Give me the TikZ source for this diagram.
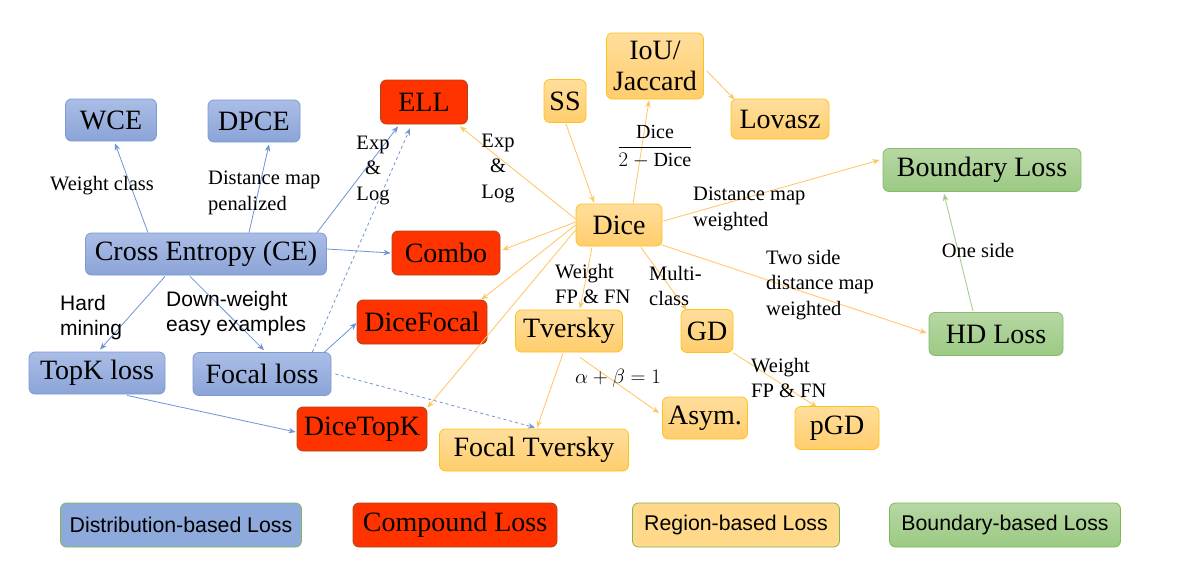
\documentclass[tikz,border=0pt]{standalone}
\usepackage{fontspec}
\setmainfont{Liberation Serif}
\newfontfamily\arialf{Liberation Sans}
\usetikzlibrary{arrows.meta,calc}
\definecolor{blueT}{HTML}{AABDE6}
\definecolor{blueBot}{HTML}{8BA4D7}
\definecolor{blueB}{HTML}{7E9AD2}
\definecolor{blueL}{HTML}{6F93D6}
\definecolor{redF}{HTML}{FF3300}
\definecolor{redB}{HTML}{A9471C}
\definecolor{orT}{HTML}{FFDE9C}
\definecolor{orBot}{HTML}{FFCD6C}
\definecolor{orB}{HTML}{FFC21A}
\definecolor{orL}{HTML}{FFC55E}
\definecolor{grT}{HTML}{B7D7A4}
\definecolor{grBot}{HTML}{9BCA83}
\definecolor{grB}{HTML}{86BC6A}
\definecolor{grL}{HTML}{9DCB85}
\definecolor{legB}{HTML}{7FB857}
\definecolor{legBlue}{HTML}{8EA9DB}
\definecolor{legOr}{HTML}{FFD88A}
\newcommand{\nodefont}{\fontsize{28}{31}\selectfont}
\newcommand{\lblfont}{\fontsize{20.5}{25.5}\selectfont}
\newcommand{\arlblfont}{\arialf\fontsize{21}{25}\selectfont}
\newcommand{\legfont}{\arialf\fontsize{21.3}{24}\selectfont}
\begin{document}
\begin{tikzpicture}[x=1pt,y=-1pt,
  box/.style={rounded corners=6pt, inner sep=0pt, font=\nodefont, align=center, line width=0.8pt},
  dist/.style={box, draw=blueB, top color=blueT, bottom color=blueBot},
  comp/.style={box, draw=redB, fill=redF},
  reg/.style={box, draw=orB, top color=orT, bottom color=orBot},
  bnds/.style={box, draw=grB, top color=grT, bottom color=grBot},
  lbl/.style={font=\lblfont, align=left, inner sep=0pt},
  lblc/.style={font=\lblfont, align=center, inner sep=0pt},
  arl/.style={font=\arlblfont, align=left, inner sep=0pt},
  tip/.style={-{Stealth[length=7pt,width=5.5pt]}},
  barr/.style={draw=blueL, line width=0.8pt, tip},
  bdash/.style={barr, dashed},
  oarr/.style={draw=orL, line width=0.8pt, tip},
  garr/.style={draw=grL, line width=0.8pt, tip},
  leg/.style={rounded corners=6pt, inner sep=0pt, line width=0.8pt, minimum height=44pt}
]
\useasboundingbox (0,0) rectangle (1200,573);
\fill[white] (0,0) rectangle (1200,573);

% distribution-based
\node[dist, minimum width=91pt, minimum height=42pt] (wce) at (111,120) {WCE};
\node[dist, minimum width=92pt, minimum height=42pt] (dpce) at (254,121) {DPCE};
\node[dist, minimum width=241pt, minimum height=42pt] (ce) at (206,254) {Cross Entropy (CE)};
\node[dist, minimum width=136pt, minimum height=42pt] (topk) at (97,373) {TopK loss};
\node[dist, minimum width=138pt, minimum height=43pt] (focal) at (262,374) {Focal loss};
% compound
\node[comp, minimum width=87pt, minimum height=44pt] (ell) at (424,102) {ELL};
\node[comp, minimum width=108pt, minimum height=44pt] (combo) at (446,253) {Combo};
\node[comp, minimum width=130pt, minimum height=44pt] (dicefocal) at (422,322) {DiceFocal};
\node[comp, minimum width=130pt, minimum height=44pt] (dicetopk) at (362,429) {DiceTopK};
% region
\node[reg, minimum width=42pt, minimum height=43pt] (ss) at (565,101) {SS};
\node[reg, minimum width=97pt, minimum height=66pt] (iou) at (655,66) {IoU/\\Jaccard};
\node[reg, minimum width=98pt, minimum height=40pt] (lovasz) at (780,119) {Lovasz};
\node[reg, minimum width=86pt, minimum height=42pt] (dice) at (619,225) {Dice};
\node[reg, minimum width=107pt, minimum height=42pt] (tversky) at (569,331) {Tversky};
\node[reg, minimum width=52pt, minimum height=43pt] (gd) at (707,331) {GD};
\node[reg, minimum width=85pt, minimum height=42pt] (asym) at (705,418) {Asym.};
\node[reg, minimum width=84pt, minimum height=43pt] (pgd) at (837,428) {pGD};
\node[reg, minimum width=189pt, minimum height=42pt] (ft) at (534,450) {Focal Tversky};
% boundary
\node[bnds, minimum width=198pt, minimum height=43pt] (bnd) at (982,170) {Boundary Loss};
\node[bnds, minimum width=134pt, minimum height=43pt] (hd) at (996,334) {HD Loss};

% blue connectors
\draw[barr] ($(ce.north)+(-58,0)$) -- ($(wce.south)+(4,2)$);
\draw[barr] ($(ce.north)+(43,0)$) -- ($(dpce.south)+(15,2)$);
\draw[barr] ($(ce.north)+(111,0)$) -- ($(ell.south)+(-26,2)$);
\draw[barr] ($(ce.east)+(0,-5)$) -- ($(combo.west)+(-1,0)$);
\draw[barr] ($(ce.south)+(-41,1)$) -- ($(topk.north)+(3,-2)$);
\draw[barr] ($(ce.south)+(-16,1)$) -- ($(focal.north)+(2,-2)$);
\draw[barr] ($(topk.south)+(30,1)$) -- ($(dicetopk.west)+(-1,3)$);
\draw[barr] ($(focal.north east)+(-7,0)$) -- ($(dicefocal.west)+(0,1)$);
\draw[bdash] ($(focal.north east)+(-19,0)$) -- ($(ell.south)+(-14,4)$);
\draw[bdash] ($(focal.east)+(4,0)$) -- ($(ft.north)+(1,-1)$);

% orange connectors
\draw[oarr] ($(dice.west)+(0,-6)$) -- ($(ell.south east)+(-8,2)$);
\draw[oarr] ($(ss.south)+(1,1)$) -- ($(dice.north)+(-25,-1)$);
\draw[oarr] ($(dice.north)+(14,0)$) -- ($(iou.south)+(-6,1)$);
\draw[oarr] ($(iou.east)+(3,5)$) -- ($(lovasz.north west)+(4,1)$);
\draw[oarr] ($(dice.east)+(1,-4)$) -- ($(bnd.west)+(-3,-10)$);
\draw[oarr] ($(dice.south east)+(-2,-2)$) -- ($(hd.west)+(-2,-1)$);
\draw[oarr] ($(dice.west)+(0,-3)$) -- ($(combo.east)+(2,-3)$);
\draw[oarr] ($(dice.west)+(0,0)$) -- ($(dicefocal.north east)+(-6,0)$);
\draw[oarr] ($(dice.west)+(0,5)$) -- ($(dicetopk.north east)+(0,1)$);
\draw[oarr] ($(dice.south)+(-27,1)$) -- ($(tversky.north)+(11,-1)$);
\draw[oarr] ($(dice.south)+(22,1)$) -- ($(gd.north west)+(6,1)$);
\draw[oarr] ($(tversky.south)+(-6,1)$) -- ($(ft.north)+(3,-1)$);
\draw[oarr] ($(tversky.south)+(11,5)$) -- ($(asym.west)+(-3,-5)$);
\draw[oarr] ($(gd.south east)+(0,0)$) -- ($(pgd.north)+(-20,1)$);
% green connector
\draw[garr] ($(hd.north)+(-23,-1)$) -- ($(bnd.south)+(-38,2)$);

% labels
\node[lblc] (lwc) at (102,186) {Weight class};
\node[lbl, anchor=west] (ldm) at (208,193) {Distance map\\penalized};
\node[lblc] (lel1) at (373,170) {Exp\\\&\\Log};
\node[lblc] (lel2) at (498,168) {Exp\\\&\\Log};
\node[arl, anchor=west] (lhm) at (60,318) {Hard\\mining};
\node[arl, anchor=west] (ldw) at (166,314) {Down-weight\\easy examples};
\node[inner sep=0pt, font=\fontsize{20}{24}\selectfont] (lfrac) at (655,147) {$\displaystyle\frac{\mathrm{Dice}}{2-\mathrm{Dice}}$};
\node[lbl, anchor=west] (ldmw) at (693,209) {Distance map\\weighted};
\node[lbl, anchor=west] (ltwo) at (766,285) {Two side\\distance map\\weighted};
\node[lblc] (lone) at (978,250) {One side};
\node[lbl, anchor=west] (lwfp) at (555,284) {Weight\\FP \& FN};
\node[lbl, anchor=west] (lmc) at (649,286) {Multi-\\class};
\node[inner sep=0pt, font=\fontsize{22.5}{26}\selectfont] (lab) at (618,378) {$\alpha+\beta=1$};
\node[lbl, anchor=west] (lwfp2) at (751,378) {Weight\\FP \& FN};

% legend
\node[leg, draw=legB, fill=legBlue, minimum width=241pt, font=\legfont] (leg1) at (181,525) {\raisebox{-2pt}{Distribution-based Loss}};
\node[leg, draw=redB, fill=redF, minimum width=204pt, font=\nodefont] (leg2) at (455,525) {\raisebox{-2pt}{Compound Loss}};
\node[leg, draw=legB, fill=legOr, minimum width=207pt, font=\legfont] (leg3) at (736,525) {\raisebox{-2pt}{Region-based Loss}};
\node[leg, draw=legB, top color=grT, bottom color=grBot, minimum width=231pt, font=\legfont] (leg4) at (1005,525) {\raisebox{-2pt}{Boundary-based Loss}};
\end{tikzpicture}
\end{document}
